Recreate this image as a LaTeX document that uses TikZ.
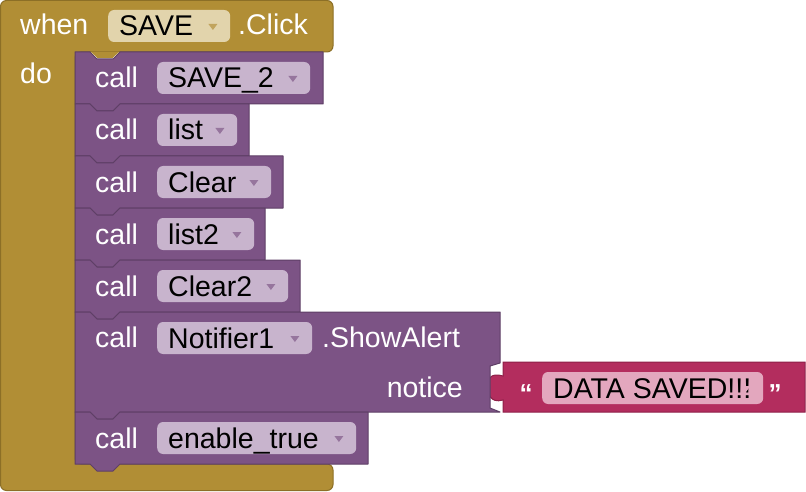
\documentclass[tikz,border=0pt]{standalone}
\usepackage{fontspec}
\setmainfont{Liberation Sans}
\usepackage{tikz}
\usetikzlibrary{calc,positioning}
\definecolor{evgold}{HTML}{B18E35}
\definecolor{evgoldd}{HTML}{8C6F26}
\definecolor{callpurp}{HTML}{7C5385}
\definecolor{callpurpd}{HTML}{5E3F66}
\definecolor{fieldpurp}{HTML}{C8B4CD}
\definecolor{fieldgold}{HTML}{E2D4AC}
\definecolor{txtpink}{HTML}{B32D5E}
\definecolor{txtpinkd}{HTML}{8E2048}
\definecolor{fieldpink}{HTML}{E3A7BE}

\tikzset{lbl/.style={font=\fontsize{28.5}{32}\selectfont,text=white,anchor=base west,inner sep=0pt},
fieldtxt/.style={font=\fontsize{28.5}{32}\selectfont,text=black,anchor=base west,inner sep=0pt},
fieldbox/.style={rounded corners=6pt,minimum height=32pt,inner sep=0pt,anchor=west},
callblock/.style={fill=callpurp,draw=callpurpd,line width=1pt,line join=round}}

% field: name, x, y(center), width, fill, text, arrow colour
\newcommand\blkfield[7]{%
\node[fieldbox,fill=#5,minimum width=#4pt] (#1) at (#2,#3) {};
\node[fieldtxt] at ($(#1.west)+(11,10)$) {#6};
\fill[#7] ($(#1.east)+(-22,-2)$) -- ++(9,0) -- ++(-4.5,6) -- cycle;}
% call block: top, bottom, right edge
\newcommand\callblk[3]{%
\draw[callblock] (75,#1) -- (90,#1) -- (97,#1+7) -- (113,#1+7) -- (120,#1) -- (#3,#1) -- (#3,#2)
 -- (120,#2) -- (113,#2+7) -- (97,#2+7) -- (90,#2) -- (75,#2) -- cycle;}

\begin{document}
\begin{tikzpicture}[x=1pt,y=-1pt]
\useasboundingbox (0,0) rectangle (806,492);

% event block
\draw[fill=evgold,draw=evgoldd,line width=1pt,rounded corners=6pt] (0.5,0.5) -- (333,0.5) -- (333,52)
 -- (75,52) -- (75,464) -- (333,464) -- (333,490.5) -- (0.5,490.5) -- cycle;
\node[lbl] (when) at (20,35) {when};
\blkfield{fsave}{108}{26}{122}{fieldgold}{SAVE}{evgold!80}
\node[lbl] (click) at (238,35) {.Click};
\node[lbl] (do) at (20,84) {do};

% call blocks
\callblk{52}{104}{323}
\fill[evgold] (91,52) -- (97.5,58) -- (112.5,58) -- (119,52) -- cycle;
\node[lbl] (c1) at (95,88) {call};
\blkfield{f1}{157}{78}{153}{fieldpurp}{SAVE\_2}{callpurp!80}
\callblk{104}{156}{249}
\node[lbl] (c2) at (95,140) {call};
\blkfield{f2}{157}{130}{80}{fieldpurp}{list}{callpurp!80}
\callblk{156}{208}{283}
\node[lbl] (c3) at (95,192) {call};
\blkfield{f3}{157}{182}{114}{fieldpurp}{Clear}{callpurp!80}
\callblk{208}{260}{265}
\node[lbl] (c4) at (95,244) {call};
\blkfield{f4}{157}{234}{97}{fieldpurp}{list2}{callpurp!80}
\callblk{260}{312}{300}
\node[lbl] (c5) at (95,296) {call};
\blkfield{f5}{157}{286}{131}{fieldpurp}{Clear2}{callpurp!80}

% text block
\draw[fill=txtpink,draw=txtpinkd,line width=1pt] (503,362) -- (805,362) -- (805,412) -- (503,412)
 -- (503,400) .. controls (490,404) and (487,392) .. (488,387) .. controls (487,380) and (490,372) .. (503,376) -- cycle;
\node[text=white,font=\fontsize{26}{28}\selectfont\bfseries,anchor=base] (q1) at (526,402) {“};
\blkfield{ftxt}{542}{388}{221}{fieldpink}{DATA SAVED!!!}{fieldpink}
\node[text=white,font=\fontsize{26}{28}\selectfont\bfseries,anchor=base] (q2) at (775,402) {”};

% ShowAlert block
\draw[callblock] (75,312) -- (90,312) -- (97,319) -- (113,319) -- (120,312) -- (500,312) -- (500,363)
 -- (490,366) -- (490,408) -- (500,412) -- (120,412) -- (113,419) -- (97,419) -- (90,412) -- (75,412) -- cycle;
\node[lbl] (c6) at (95,347) {call};
\blkfield{f6}{157}{338}{155}{fieldpurp}{Notifier1}{callpurp!80}
\node[lbl] (show) at (322,347) {.ShowAlert};
\node[lbl,anchor=base east] (notice) at (463,397) {notice};

\callblk{412}{464}{368}
\node[lbl] (c7) at (95,448) {call};
\blkfield{f7}{157}{438}{199}{fieldpurp}{enable\_true}{callpurp!80}
\end{tikzpicture}
\end{document}
